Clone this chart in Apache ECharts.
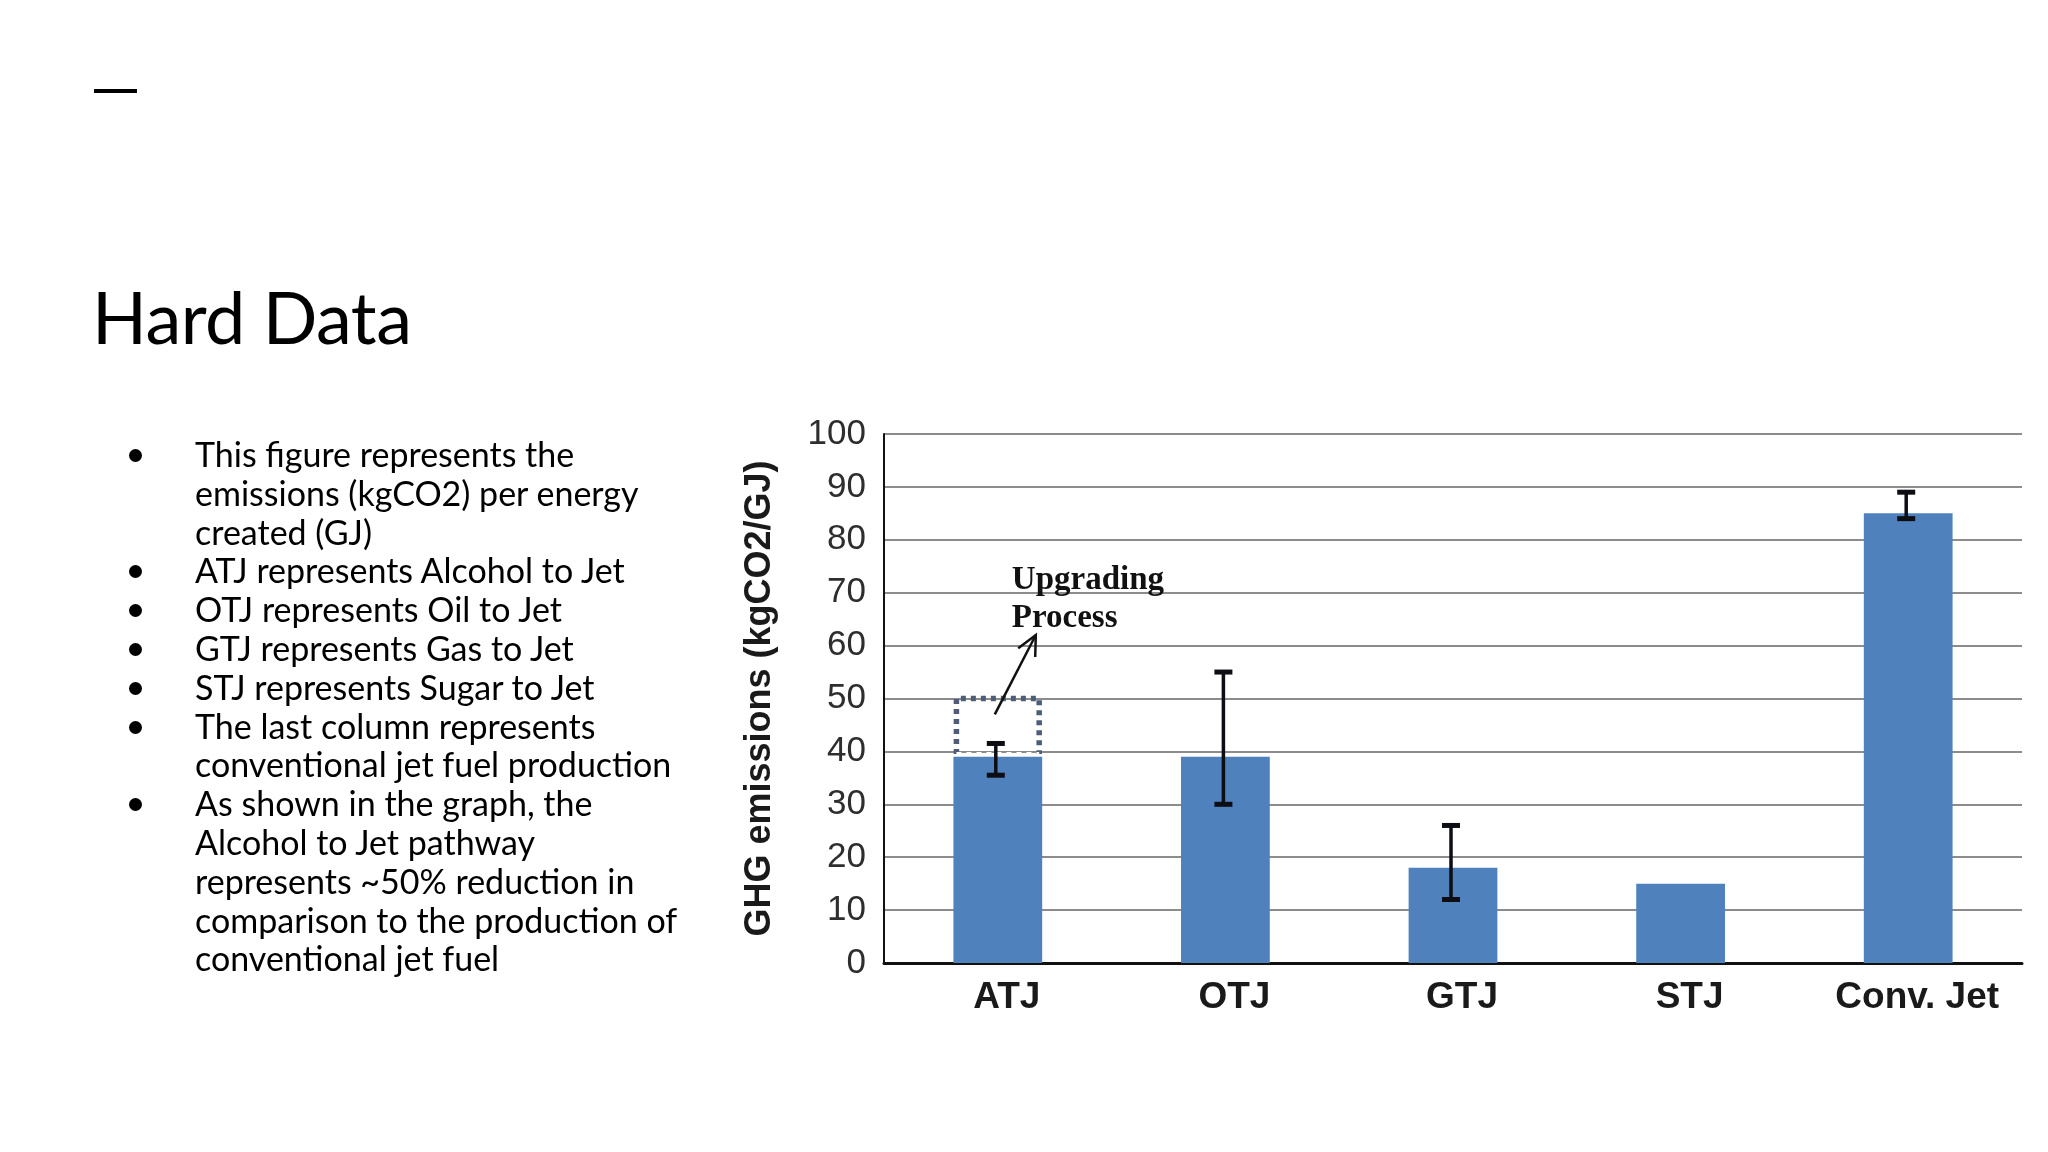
<!DOCTYPE html>
<html>
<head>
<meta charset="utf-8">
<script src="https://cdn.jsdelivr.net/npm/echarts@6/dist/echarts.min.js"></script>
<style>
  html, body { margin: 0; padding: 0; background: #fff; }
  #page { position: relative; width: 2048px; height: 1152px; overflow: hidden; background: #fff; }
  #dash { position: absolute; left: 94px; top: 89px; width: 43px; height: 4px; background: #000; }
  #title { position: absolute; left: 92px; top: 266px; font-family: Lato, "Open Sans", sans-serif; font-size: 72px; line-height: 100px; color: #000; letter-spacing: -0.5px; }
  #bullets { position: absolute; left: 0; top: 435px; font-family: Lato, sans-serif; font-size: 34px; line-height: 38.8px; color: #000; }
  .li { position: relative; padding-left: 195px; white-space: nowrap; }
  .li .dot { position: absolute; left: 129px; top: 14px; width: 13px; height: 13px; border-radius: 50%; background: #000; }
  #chart { position: absolute; left: 0; top: 0; width: 2048px; height: 1152px; }
</style>
</head>
<body>
<div id="page">
  <div id="chart"></div>
  <div id="dash"></div>
  <div id="title">Hard Data</div>
  <div id="bullets"></div>
</div>
<script>
// ---- slide text ----
const bulletItems = [
  ["This figure represents the", "emissions (kgCO2) per energy", "created (GJ)"],
  ["ATJ represents Alcohol to Jet"],
  ["OTJ represents Oil to Jet"],
  ["GTJ represents Gas to Jet"],
  ["STJ represents Sugar to Jet"],
  ["The last column represents", "conventional jet fuel production"],
  ["As shown in the graph, the", "Alcohol to Jet pathway", "represents ~50% reduction in", "comparison to the production of", "conventional jet fuel"]
];

// ---- chart data ----
const categories = ["ATJ", "OTJ", "GTJ", "STJ", "Conv. Jet"];
const emissions = [39, 39, 18, 15, 85];
const errLow = [35.5, 30, 12, null, 84];
const errHigh = [41.5, 55, 26, null, 89];
const yTicks = { min: 0, max: 100, interval: 10 };
const yAxisTitle = "GHG emissions (kgCO2/GJ)";
// upgrading box on ATJ: [category index, low, high]
const upgradeBox = [0, 39.5, 50];
// arrow: [value tail, value head]
const upgradeArrow = [47, 62];
const upgradeLabel = ["Upgrading", "Process"];
const upgradeLabelValues = [72.4, 65.2];

// build bullets
const bEl = document.getElementById('bullets');
bulletItems.forEach(lines => {
  const d = document.createElement('div');
  d.className = 'li';
  d.innerHTML = '<span class="dot"></span>' + lines.join('<br>');
  bEl.appendChild(d);
});

const chart = echarts.init(document.getElementById('chart'));
const BAR_FRAC = 0.39;

const errData = categories.map((c, i) => [i, errLow[i], errHigh[i]]).filter(d => d[1] != null);

chart.setOption({
  animation: false,
  grid: { left: 884, right: 26, top: 434, bottom: 189, containLabel: false },
  xAxis: {
    type: 'category',
    data: categories,
    axisLine: { show: true, lineStyle: { color: '#111', width: 3 } },
    axisTick: { show: false },
    axisLabel: { color: '#1a1a1a', fontFamily: 'Liberation Sans, Arial, sans-serif', fontWeight: 'bold', fontSize: 37, margin: 16, padding: [0, 0, 0, 18] }
  },
  yAxis: {
    type: 'value',
    min: yTicks.min, max: yTicks.max, interval: yTicks.interval,
    name: yAxisTitle,
    nameLocation: 'middle',
    nameGap: 106,
    nameTextStyle: { color: '#1a1a1a', fontFamily: 'Liberation Sans, Arial, sans-serif', fontWeight: 'bold', fontSize: 36 },
    axisLine: { show: true, lineStyle: { color: '#111', width: 2 } },
    axisTick: { show: false },
    axisLabel: { color: '#2e2e2e', fontFamily: 'Liberation Sans, Arial, sans-serif', fontSize: 35, margin: 18 },
    splitLine: { show: true, lineStyle: { color: '#8c8c8c', width: 2 } }
  },
  series: [
    {
      type: 'bar',
      data: emissions,
      barWidth: (BAR_FRAC * 100) + '%',
      itemStyle: { color: '#4f81bd' },
      z: 2
    },
    {
      type: 'custom',
      data: [upgradeBox],
      z: 3,
      renderItem: function (params, api) {
        const i = api.value(0);
        const lo = api.coord([i, api.value(1)]);
        const hi = api.coord([i, api.value(2)]);
        const bw = api.size([1, 0])[0] * BAR_FRAC;
        const x0 = lo[0] - bw / 2 + 3, x1 = lo[0] + bw / 2 - 3;
        const tail = api.coord([i, upgradeArrow[0]]);
        const head = api.coord([i, upgradeArrow[1]]);
        const tx = tail[0] - 3, ty = tail[1];
        const hx = head[0] + 38, hy = head[1];
        const ang = Math.atan2(hy - ty, hx - tx);
        const al = 22, aw = 0.45;
        const l1 = [hx - al * Math.cos(ang - aw), hy - al * Math.sin(ang - aw)];
        const l2 = [hx - al * Math.cos(ang + aw), hy - al * Math.sin(ang + aw)];
        const t1 = api.coord([i, upgradeLabelValues[0]]);
        const t2 = api.coord([i, upgradeLabelValues[1]]);
        const txtStyle = { fill: '#111', font: 'bold 33px "Liberation Serif", "Times New Roman", serif', textAlign: 'left', textVerticalAlign: 'middle' };
        return {
          type: 'group',
          children: [
            { type: 'polyline', shape: { points: [[x0, lo[1]], [x0, hi[1]], [x1, hi[1]], [x1, lo[1]]] },
              style: { stroke: '#4d5d78', lineWidth: 5.5, lineDash: [5, 5], fill: null } },
            { type: 'line', shape: { x1: x0, y1: lo[1], x2: x1, y2: lo[1] },
              style: { stroke: '#ffffff', lineWidth: 4, lineDash: [5, 5] } },
            { type: 'line', shape: { x1: tx, y1: ty, x2: hx, y2: hy }, style: { stroke: '#111', lineWidth: 2.5 } },
            { type: 'polyline', shape: { points: [l1, [hx, hy], l2] }, style: { stroke: '#111', lineWidth: 2.5, fill: null } },
            { type: 'text', x: lo[0] + 14, y: t1[1], style: Object.assign({ text: upgradeLabel[0] }, txtStyle) },
            { type: 'text', x: lo[0] + 14, y: t2[1], style: Object.assign({ text: upgradeLabel[1] }, txtStyle) }
          ]
        };
      }
    },
    {
      type: 'custom',
      data: errData,
      z: 4,
      renderItem: function (params, api) {
        const i = api.value(0);
        const lo = api.coord([i, api.value(1)]);
        const hi = api.coord([i, api.value(2)]);
        const cx = lo[0] - 2;
        const cap = 9;
        const st = { stroke: '#0d0d14', lineWidth: 3.5 };
        return {
          type: 'group',
          children: [
            { type: 'line', shape: { x1: cx, y1: lo[1], x2: cx, y2: hi[1] }, style: st },
            { type: 'line', shape: { x1: cx - cap, y1: lo[1], x2: cx + cap, y2: lo[1] }, style: { stroke: '#0d0d14', lineWidth: 5 } },
            { type: 'line', shape: { x1: cx - cap, y1: hi[1], x2: cx + cap, y2: hi[1] }, style: { stroke: '#0d0d14', lineWidth: 5 } }
          ]
        };
      }
    }
  ]
});
</script>
</body>
</html>
